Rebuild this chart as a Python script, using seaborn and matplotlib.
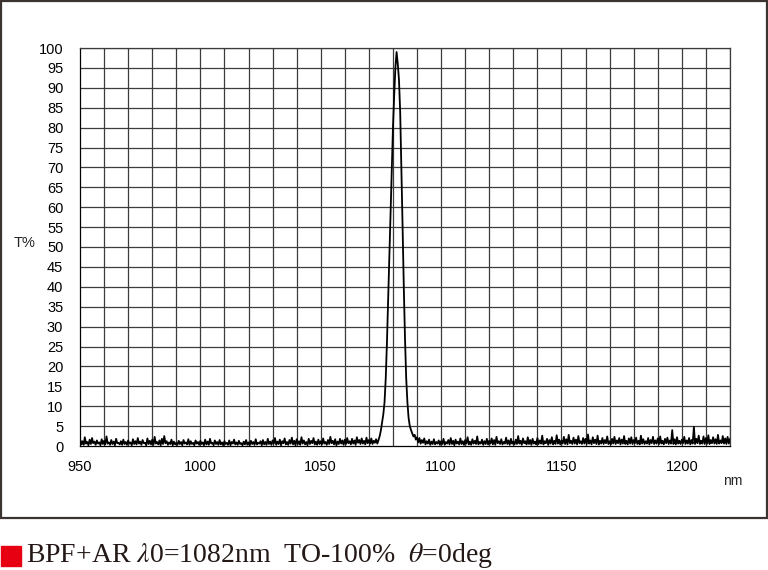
import numpy as np
import matplotlib
matplotlib.use("Agg")
import matplotlib.pyplot as plt
from matplotlib.patches import Rectangle
from matplotlib.ticker import MultipleLocator
import seaborn as sns

# transmission spectrum, 0.5 nm steps, one row per 10 nm
start_nm = 950
step_nm = 0.5
rows = [
    [1.8,0.4,1.2,0.3,2.2,0.6,1.0,0.2,1.6,0.5,2.0,0.7,1.1,0.3,1.4,0.6,0.9,0.2,1.7,0.5],  # 950
    [1.3,0.4,2.4,0.6,0.9,0.3,1.5,0.5,1.1,0.2,1.8,0.7,0.8,0.4,1.2,0.3,1.6,0.5,1.0,0.3],  # 960
    [1.4,0.6,0.9,0.2,1.7,0.5,1.2,0.4,2.0,0.6,1.1,0.3,1.5,0.7,0.8,0.2,1.9,0.5,1.3,0.4],  # 970
    [1.6,0.3,2.3,0.6,1.0,0.4,1.4,0.2,1.8,0.5,2.5,0.7,1.2,0.3,0.9,0.5,1.6,0.2,1.1,0.4],  # 980
    [0.8,0.3,1.3,0.5,1.0,0.2,1.5,0.6,0.9,0.4,1.7,0.3,1.2,0.5,0.8,0.2,1.4,0.6,1.0,0.3],  # 990
    [1.3,0.5,0.9,0.2,1.6,0.4,1.1,0.3,1.8,0.6,0.8,0.2,1.4,0.5,1.0,0.3,1.5,0.4,0.9,0.2],  # 1000
    [1.2,0.5,0.8,0.3,1.4,0.2,1.0,0.6,1.6,0.4,0.9,0.3,1.3,0.5,0.7,0.2,1.1,0.4,1.5,0.3],  # 1010
    [0.9,0.2,1.3,0.5,1.0,0.3,1.7,0.4,0.8,0.6,1.2,0.2,1.5,0.4,1.0,0.3,1.8,0.5,1.1,0.3],  # 1020
    [1.4,0.6,2.0,0.3,1.1,0.5,1.6,0.2,1.2,0.7,1.9,0.4,1.0,0.3,1.5,0.6,2.1,0.4,1.3,0.2],  # 1030
    [1.7,0.5,1.2,0.3,2.2,0.6,1.4,0.4,1.0,0.2,1.8,0.5,1.3,0.7,2.0,0.4,1.1,0.3,1.6,0.5],  # 1040
    [1.2,0.4,1.9,0.6,1.0,0.3,1.5,0.5,2.3,0.7,1.3,0.4,1.7,0.2,1.1,0.5,1.8,0.6,1.4,0.3],  # 1050
    [1.6,0.5,2.0,0.7,1.2,0.4,1.8,0.6,1.4,0.3,2.2,0.8,1.5,0.5,1.9,0.6,1.3,0.4,2.1,0.7],  # 1060
    [1.5,0.6,1.9,0.5,1.3,0.8,1.7,0.6,1.5,2.5,4,6,8,11,17,26,37,49,60,70],              # 1070
    [80,88,95,99,96,92,84,70,55,40,27,17,11,7,5,4,3.2,2.4,2.8,1.6],                     # 1080
    [2.2,0.9,2.0,0.6,1.5,0.8,1.9,0.4,1.2,0.6,1.6,0.3,1.1,0.5,1.7,0.4,1.0,0.6,1.4,0.3],  # 1090
    [1.2,0.5,1.8,0.3,1.0,0.6,1.5,0.4,2.0,0.5,1.3,0.2,1.6,0.6,1.1,0.4,1.9,0.5,1.2,0.3],  # 1100
    [1.5,0.6,2.2,0.4,1.1,0.3,1.7,0.6,1.3,0.5,2.4,0.4,1.0,0.6,1.6,0.3,1.2,0.5,1.8,0.4],  # 1110
    [1.3,0.6,1.9,0.4,1.5,0.3,2.3,0.7,1.2,0.5,1.7,0.4,1.0,0.6,2.1,0.5,1.4,0.3,1.8,0.6],  # 1120
    [1.1,0.4,1.6,0.5,2.5,0.6,1.3,0.3,1.9,0.7,1.2,0.4,2.2,0.5,1.5,0.3,1.8,0.6,1.1,0.4],  # 1130
    [2.0,0.5,1.4,0.6,2.6,0.4,1.2,0.7,1.8,0.3,1.5,0.6,2.2,0.4,1.3,0.5,2.7,0.6,1.6,0.4],  # 1140
    [1.4,0.6,2.3,0.5,1.7,0.4,2.8,0.7,1.3,0.5,2.1,0.6,1.6,0.4,2.5,0.7,1.2,0.5,2.0,0.6],  # 1150
    [1.8,0.5,2.9,0.6,1.4,0.4,2.2,0.7,1.6,0.5,2.6,0.4,1.3,0.6,2.0,0.5,1.5,0.7,2.4,0.5],  # 1160
    [1.2,0.4,1.8,0.6,2.3,0.5,1.4,0.7,2.0,0.4,1.6,0.6,2.5,0.5,1.3,0.4,1.9,0.6,2.2,0.5],  # 1170
    [1.5,0.7,2.1,0.5,1.3,0.4,2.6,0.6,1.7,0.5,1.2,0.6,2.0,0.4,1.5,0.7,2.3,0.5,1.4,0.6],  # 1180
    [1.9,0.5,2.4,0.6,1.3,0.4,1.8,0.7,2.1,0.5,1.4,0.6,4.0,0.5,1.7,0.4,2.2,0.6,1.3,0.5],  # 1190
    [1.6,0.7,2.3,0.5,1.4,0.6,2.0,0.4,1.5,0.6,4.8,0.5,1.8,0.7,2.6,0.5,1.3,0.6,2.4,0.5],  # 1200
    [2.0,0.6,2.7,0.5,1.5,0.7,2.2,0.6,1.7,0.5,2.8,0.6,1.4,0.7,2.5,0.6,1.9,0.5,2.3,0.6],  # 1210
    [1.8],                                                                              # 1220
]
x_major = [950, 1000, 1050, 1100, 1150, 1200]
y_major = list(range(0, 101, 5))
caption = r"BPF+AR $\lambda$0=1082nm  TO-100%  $\theta$=0deg"

trans = [v for r in rows for v in r]
wl = start_nm + step_nm * np.arange(len(trans))

sns.set_style("white")
plt.rcParams["font.family"] = ["Liberation Sans", "DejaVu Sans"]
plt.rcParams["mathtext.fontset"] = "stix"

fig = plt.figure(figsize=(7.68, 5.70), dpi=100)
ax = fig.add_axes([80 / 768, 124 / 570, 650 / 768, 398 / 570])

# outer frame around the chart
fig.patches.append(Rectangle((0.0015, 52 / 570), 0.997, 517 / 570, transform=fig.transFigure,
                             fill=False, edgecolor="#3a3330", lw=1.6))

sns.lineplot(x=wl, y=trans, ax=ax, color="black", lw=1.3, estimator=None, sort=False)

ax.set_xlim(950, 1220)
ax.set_ylim(0, 100)
ax.set_xticks(x_major)
ax.xaxis.set_minor_locator(MultipleLocator(10))
ax.set_yticks(y_major)
ax.yaxis.set_minor_locator(MultipleLocator(1))
ax.grid(False)
for gx in range(960, 1221, 10):
    ax.axvline(gx, color="#3c3c3c", lw=0.9, zorder=0)
for gy in range(5, 101, 5):
    ax.axhline(gy, color="#3c3c3c", lw=0.9, zorder=0)

for s in ax.spines.values():
    s.set_color("#3c3c3c")
    s.set_linewidth(0.9)
ax.spines["left"].set_color("black")
ax.spines["bottom"].set_color("black")

ax.tick_params(axis="x", which="major", direction="out", length=5, width=1.0, pad=5,
               labelsize=10.5, colors="black")
ax.tick_params(axis="x", which="minor", direction="out", length=3, width=0.9)
ax.tick_params(axis="y", which="major", direction="out", length=6, width=1.0, pad=6,
               labelsize=10.5, colors="black")
ax.tick_params(axis="y", which="minor", direction="out", length=3.5, width=0.6)
ax.set_xlabel("")
ax.set_ylabel("")

fig.text(25 / 768, 1 - 243 / 570, "T%", fontsize=10.5, ha="center", va="center")
fig.text(733 / 768, 1 - 481 / 570, "nm", fontsize=10, ha="center", va="center")

# caption below the frame
fig.patches.append(Rectangle((1 / 768, 1 - 566 / 570), 20 / 768, 20 / 570,
                             transform=fig.transFigure, color="#e60012"))
fig.text(26 / 768, 1 - 556 / 570, caption, fontsize=20, family="Liberation Serif",
         color="#231815", ha="left", va="center")

fig.savefig("out.png", dpi=100)
